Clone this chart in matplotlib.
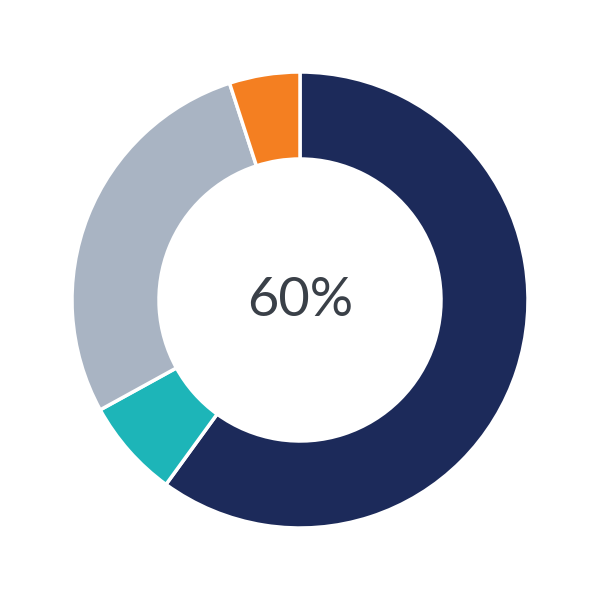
import matplotlib
matplotlib.use("Agg")
import matplotlib.pyplot as plt

# share of each segment, clockwise from the top
labels = ["Navy", "Teal", "Gray", "Orange"]
values = [60, 7, 28, 5]
colors = ["#1c2a5a", "#1db5b8", "#a9b4c3", "#f47f21"]
center_text = "60%"

fig = plt.figure(figsize=(6, 6), dpi=100)
ax = fig.add_axes([0, 0, 1, 1])

outer_r = 0.76
ring_w = 0.29
ax.pie(values, colors=colors, startangle=90, counterclock=False,
       radius=outer_r,
       wedgeprops=dict(width=ring_w, edgecolor="white", linewidth=2.5))

ax.text(0, 0, center_text, ha="center", va="center", fontsize=39,
        color="#3a4048", family=["Lato", "DejaVu Sans"], fontweight="normal")

ax.set_xlim(-1, 1)
ax.set_ylim(-1, 1)
ax.set_aspect("equal")
ax.axis("off")

fig.savefig("out.png", dpi=100, facecolor="white")
